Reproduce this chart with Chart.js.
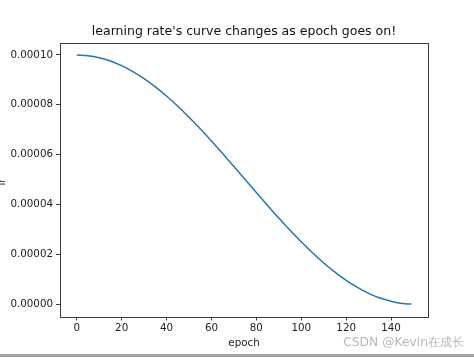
<!DOCTYPE html>
<html>
<head>
<meta charset="utf-8">
<script src="https://cdn.jsdelivr.net/npm/chart.js@4/dist/chart.umd.min.js"></script>
<style>
  html, body { margin: 0; padding: 0; background: #fff; }
  #wrap { width: 474px; height: 357px; position: relative; }
</style>
</head>
<body>
<div id="wrap"><canvas id="c" width="474" height="357"></canvas></div>
<script>
// Data
const epochs = [0, 5, 10, 15, 20, 25, 30, 35, 40, 45, 50, 55, 60, 65, 70, 75,
                80, 85, 90, 95, 100, 105, 110, 115, 120, 125, 130, 135, 140, 145, 149];
const learningRates = [0.0001000, 0.0000997, 0.0000989, 0.0000976, 0.0000957, 0.0000933, 0.0000905, 0.0000872,
                       0.0000835, 0.0000794, 0.0000750, 0.0000704, 0.0000655, 0.0000604, 0.0000552, 0.0000500,
                       0.0000448, 0.0000396, 0.0000345, 0.0000296, 0.0000250, 0.0000206, 0.0000165, 0.0000128,
                       0.0000095, 0.0000067, 0.0000043, 0.0000024, 0.0000011, 0.0000002, 0.0000000];
const xTicks = [0, 20, 40, 60, 80, 100, 120, 140];
const yTicks = [0, 0.00002, 0.00004, 0.00006, 0.00008, 0.0001];
const titleText = "learning rate's curve changes as epoch goes on!";
const xLabel = 'epoch';
const yLabel = 'lr';
const watermark = 'CSDN @Kevin在成长';

const FONT = "'DejaVu Sans', sans-serif";
const FRAME = '#3c3c3c';

const points = epochs.map((e, i) => ({ x: e, y: learningRates[i] }));

const decor = {
  id: 'decor',
  afterDraw(chart) {
    const ctx = chart.ctx;
    const a = chart.chartArea;
    ctx.save();
    // frame on all four sides
    ctx.strokeStyle = FRAME;
    ctx.lineWidth = 1;
    ctx.strokeRect(Math.round(a.left) + 0.5, Math.round(a.top) + 0.5,
                   Math.round(a.right - a.left), Math.round(a.bottom - a.top));
    // title centred over the plot area
    ctx.fillStyle = '#111';
    ctx.font = '12.5px ' + FONT;
    ctx.textAlign = 'center';
    ctx.textBaseline = 'middle';
    ctx.fillText(titleText, (a.left + a.right) / 2, 32);
    // clipped y label
    ctx.fillStyle = '#222';
    ctx.font = '10.3px ' + FONT;
    ctx.translate(4.5, 182);
    ctx.rotate(-Math.PI / 2);
    ctx.textAlign = 'center';
    ctx.textBaseline = 'alphabetic';
    ctx.fillText(yLabel, 0, 0);
    ctx.restore();
    // watermark
    ctx.save();
    ctx.fillStyle = '#b9b9b9';
    ctx.font = '12.3px ' + FONT;
    ctx.textAlign = 'right';
    ctx.textBaseline = 'middle';
    ctx.fillText(watermark, 464, 343);
    // bottom strip
    ctx.fillStyle = '#a3a3a3';
    ctx.fillRect(0, 354, 474, 3);
    ctx.restore();
  }
};

new Chart(document.getElementById('c'), {
  type: 'line',
  data: {
    datasets: [{
      data: points,
      borderColor: '#1f77b4',
      borderWidth: 1.5,
      pointRadius: 0,
      fill: false,
      cubicInterpolationMode: 'monotone'
    }]
  },
  options: {
    responsive: false,
    animation: false,
    devicePixelRatio: 1,
    layout: { padding: { left: 0, right: 46, top: 42.5, bottom: 0 } },
    plugins: {
      legend: { display: false },
      tooltip: { enabled: false },
      title: { display: false }
    },
    scales: {
      x: {
        type: 'linear',
        min: -7.45,
        max: 156.45,
        afterBuildTicks: s => { s.ticks = xTicks.map(v => ({ value: v })); },
        afterFit: s => { s.height = 40.5; },
        grid: { drawOnChartArea: false, drawTicks: true, tickLength: 4, color: FRAME },
        border: { display: false },
        ticks: { color: '#222', padding: 2, maxRotation: 0, font: { family: FONT, size: 10.3 },
                 callback: v => String(v) },
        title: { display: true, text: xLabel, color: '#222', font: { family: FONT, size: 10.3 },
                 padding: { top: 0, bottom: 7 } }
      },
      y: {
        type: 'linear',
        min: -0.000005,
        max: 0.000105,
        afterBuildTicks: s => { s.ticks = yTicks.map(v => ({ value: v })); },
        afterFit: s => { s.width = 60; },
        grid: { drawOnChartArea: false, drawTicks: true, tickLength: 4, color: FRAME },
        border: { display: false },
        ticks: { color: '#222', padding: 3, font: { family: FONT, size: 10.3 },
                 callback: v => Number(v).toFixed(5) },
        title: { display: false }
      }
    }
  },
  plugins: [decor]
});
</script>
</body>
</html>
